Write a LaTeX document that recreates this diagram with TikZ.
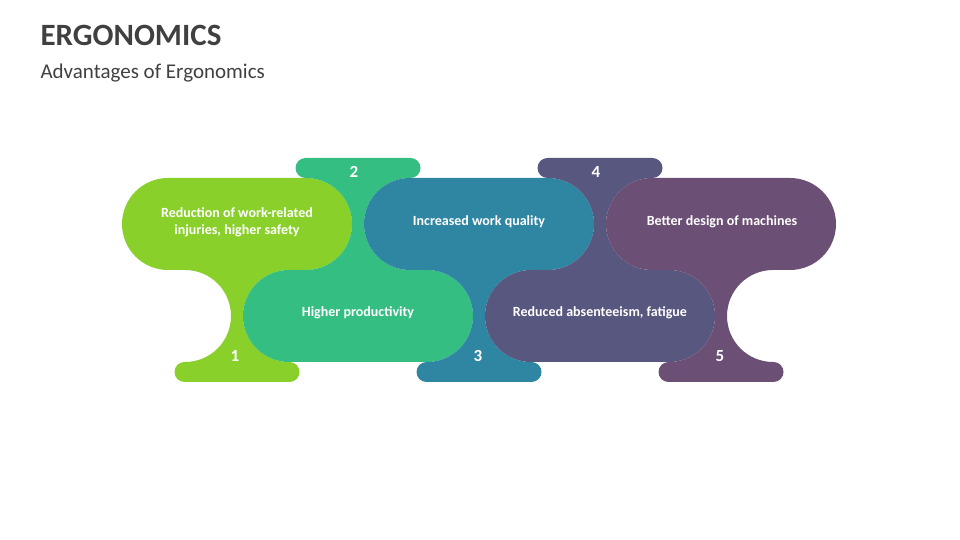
\documentclass[tikz,border=0pt]{standalone}
\usepackage{fontspec}
\setmainfont{Carlito}
\definecolor{cA}{HTML}{8AD02B}
\definecolor{cB}{HTML}{34BE82}
\definecolor{cC}{HTML}{2F86A2}
\definecolor{cD}{HTML}{58577F}
\definecolor{cE}{HTML}{6C4F74}
\definecolor{titc}{HTML}{404040}
\newcommand\ergoshape[2]{%
\fill[#2] (#1-69,362) -- (#1+69,362) arc[start angle=90,end angle=-90,radius=46]
 -- (#1+52,270) arc[start angle=90,end angle=270,radius=46]
 -- (#1+52.5,178) arc[start angle=90,end angle=-90,radius=10]
 -- (#1-52.5,158) arc[start angle=270,end angle=90,radius=10]
 -- (#1-52,178) arc[start angle=-90,end angle=90,radius=46]
 -- (#1-69,270) arc[start angle=270,end angle=90,radius=46] -- cycle;}
\begin{document}
\begin{tikzpicture}[x=1pt,y=1pt,
  lbl/.style={text=white,font=\bfseries\fontsize{14}{17}\selectfont,align=center},
  num/.style={text=white,font=\bfseries\fontsize{17}{20}\selectfont}]
\useasboundingbox (0,0) rectangle (960,540);
\node[anchor=west,text=titc,font=\bfseries\fontsize{31}{36}\selectfont] (title) at (37,505) {ERGONOMICS};
\node[anchor=west,text=titc,font=\fontsize{21}{25}\selectfont] (sub) at (37,467) {Advantages of Ergonomics};
\ergoshape{237}{cA}
\begin{scope}[yshift=540pt,yscale=-1]\ergoshape{358}{cB}\end{scope}
\ergoshape{479}{cC}
\begin{scope}[yshift=540pt,yscale=-1]\ergoshape{600}{cD}\end{scope}
\ergoshape{721}{cE}
\node[lbl] (t1) at (237,318) {Reduction of work-related\\injuries, higher safety};
\node[lbl] (t2) at (358,227) {Higher productivity};
\node[lbl] (t3) at (479,318) {Increased work quality};
\node[lbl] (t4) at (600,227) {Reduced absenteeism, fatigue};
\node[lbl] (t5) at (722,318) {Better design of machines};
\node[num] (n1) at (235,184) {1};
\node[num] (n2) at (354,368) {2};
\node[num] (n3) at (478,184) {3};
\node[num] (n4) at (596,368) {4};
\node[num] (n5) at (720,184) {5};
\end{tikzpicture}
\end{document}
